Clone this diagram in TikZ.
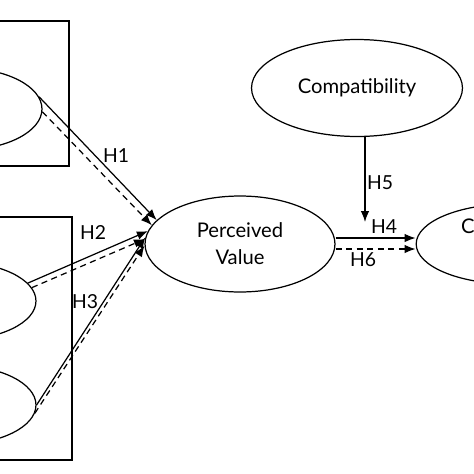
\documentclass[tikz,border=0pt]{standalone}
\usepackage{fontspec}
\setmainfont{Lato}
\usetikzlibrary{arrows.meta, positioning, shapes.geometric}
\tikzset{
  cons/.style={draw, ellipse, line width=0.7pt, inner sep=0pt, align=center},
  grp/.style={draw, line width=0.8pt},
  arr/.style={-{Latex[length=2.2mm, width=1.7mm]}, line width=0.7pt},
  darr/.style={arr, dash pattern=on 3.5pt off 2.5pt},
}

\begin{document}
\begin{tikzpicture}[x=0.02cm, y=-0.02cm,
   every node/.style={font=\fontsize{11.5}{15.4}\selectfont},
   hyp/.style={font=\fontsize{11}{13}\selectfont, inner sep=1pt}]
  \useasboundingbox (0,0) rectangle (474,474);
  % groups on the left
  \draw[grp] (-10,21) rectangle (69,166);
  \draw[grp] (-10,217) rectangle (72,460);
  \node[cons, minimum width=3.2cm, minimum height=1.64cm] (l1) at (-38,109) {};
  \node[cons, minimum width=3.2cm, minimum height=1.56cm] (l2) at (-44,301) {};
  \node[cons, minimum width=3.2cm, minimum height=1.58cm] (l3) at (-44,405) {};
  % constructs
  \node[cons, minimum width=3.8cm, minimum height=1.92cm] (pv) at (240,244) {Perceived\\Value};
  \node[cons, minimum width=4.22cm, minimum height=1.94cm] (cb) at (357,88) {Compatibility};
  \node[cons, minimum width=3.8cm, minimum height=1.6cm, right=1.6cm of pv,
        text width=2cm, align=left] (ci) {C\\\strut};
  \coordinate (h5tip) at (365,222);
  % paths
  \draw[arr] (l1.9) -- (pv.164);
  \draw[darr] (l1.-2) -- (pv.168);
  \draw[arr] (l2.14) -- (pv.172);
  \draw[darr] (l2.10) -- (pv.177);
  \draw[arr] (l3.0) -- (pv.176);
  \draw[darr] (l3.-6) -- (pv.181);
  \draw[arr] ([yshift=0.12cm]pv.east) -- ([yshift=0.12cm]ci.west);
  \draw[darr] ([yshift=-0.1cm]pv.east) -- ([yshift=-0.1cm]ci.west);
  \draw[arr] (cb.south -| h5tip) -- (h5tip);
  % hypotheses
  \node[hyp] (h1) at (116,156) {H1};
  \node[hyp] (h2) at (93,232) {H2};
  \node[hyp] (h3) at (85,302) {H3};
  \node[hyp] (h4) at (384,227) {H4};
  \node[hyp] (h5) at (380,183) {H5};
  \node[hyp] (h6) at (363,260) {H6};
\end{tikzpicture}
\end{document}
